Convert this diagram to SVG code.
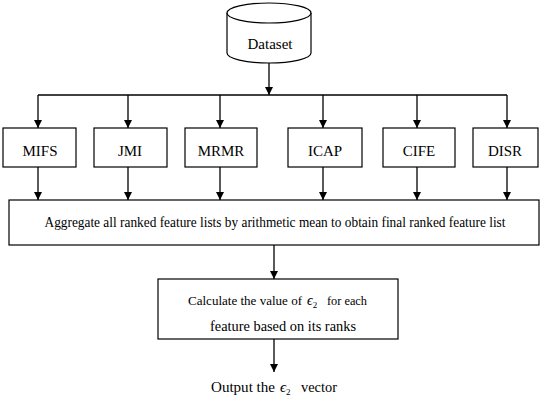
<svg xmlns="http://www.w3.org/2000/svg" width="550" height="400" viewBox="0 0 550 400">
<defs>
<marker id="ah" viewBox="0 0 10 10" refX="10" refY="5" markerWidth="8" markerHeight="8" markerUnits="userSpaceOnUse" orient="auto">
<path d="M0,0 L10,5 L0,10 z" fill="#000"/>
</marker>
<style>
.box{fill:#fff;stroke:#000;stroke-width:1.2}
.ln{fill:none;stroke:#000;stroke-width:1.3}
.ar{fill:none;stroke:#000;stroke-width:1.3;marker-end:url(#ah)}
text{font-family:'Liberation Serif','Times New Roman',serif;font-size:15px;fill:#000;text-anchor:middle}
.s{font-size:14px}
.c{font-size:13px}
.l{text-anchor:start}
.eps{font-style:italic;text-anchor:start}
.sub{font-size:9px;font-style:normal}
</style>
</defs>
<g id="connectors">
<line class="ar" x1="269" y1="63" x2="269" y2="95"/>
<line class="ln" x1="38" y1="95" x2="507" y2="95"/>
<line class="ar" x1="38" y1="95" x2="38" y2="128"/>
<line class="ar" x1="128" y1="95" x2="128" y2="128"/>
<line class="ar" x1="220" y1="95" x2="220" y2="128"/>
<line class="ar" x1="323" y1="95" x2="323" y2="128"/>
<line class="ar" x1="417" y1="95" x2="417" y2="128"/>
<line class="ar" x1="507" y1="95" x2="507" y2="128"/>
<line class="ar" x1="38" y1="167" x2="38" y2="200"/>
<line class="ar" x1="128" y1="167" x2="128" y2="200"/>
<line class="ar" x1="220" y1="167" x2="220" y2="200"/>
<line class="ar" x1="323" y1="167" x2="323" y2="200"/>
<line class="ar" x1="417" y1="167" x2="417" y2="200"/>
<line class="ar" x1="507" y1="167" x2="507" y2="200"/>
<line class="ar" x1="274" y1="245" x2="274" y2="279"/>
<line class="ar" x1="274" y1="339" x2="274" y2="372"/>
</g>
<g id="dataset">
<path class="box" d="M227,13 L227,53 A42,10 0 0 0 311,53 L311,13"/>
<ellipse class="box" cx="269" cy="13" rx="42" ry="10"/>
<text x="270" y="49">Dataset</text>
</g>
<g id="mifs"><rect class="box" x="3" y="128" width="73" height="39"/><text x="40" y="156">MIFS</text></g>
<g id="jmi"><rect class="box" x="94" y="128" width="73" height="39"/><text x="130" y="156">JMI</text></g>
<g id="mrmr"><rect class="box" x="185" y="128" width="72" height="39"/><text x="221" y="156">MRMR</text></g>
<g id="icap"><rect class="box" x="288" y="128" width="74" height="39"/><text x="325" y="156">ICAP</text></g>
<g id="cife"><rect class="box" x="383" y="128" width="72" height="39"/><text x="419" y="156">CIFE</text></g>
<g id="disr"><rect class="box" x="473" y="128" width="65" height="39"/><text x="505" y="156">DISR</text></g>
<g id="aggregate">
<rect class="box" x="9" y="200" width="530" height="45"/>
<text class="s" x="275" y="227" textLength="461" lengthAdjust="spacingAndGlyphs">Aggregate all ranked feature lists by arithmetic mean to obtain final ranked feature list</text>
</g>
<g id="calculate">
<rect class="box" x="158" y="279" width="240" height="60"/>
<text class="c l" x="188" y="305" textLength="114" lengthAdjust="spacingAndGlyphs">Calculate the value of</text>
<text class="s eps" x="307" y="305">ϵ<tspan class="sub" dy="3">2</tspan></text>
<text class="c l" x="327" y="305" textLength="40" lengthAdjust="spacingAndGlyphs">for each</text>
<text class="s" x="283" y="331" textLength="146" lengthAdjust="spacingAndGlyphs">feature based on its ranks</text>
</g>
<g id="output">
<text class="l" x="211" y="392" textLength="64" lengthAdjust="spacingAndGlyphs">Output the</text>
<text class="eps" x="280" y="392">ϵ<tspan class="sub" dy="3">2</tspan></text>
<text class="l" x="301" y="392" textLength="36" lengthAdjust="spacingAndGlyphs">vector</text>
</g>
</svg>
